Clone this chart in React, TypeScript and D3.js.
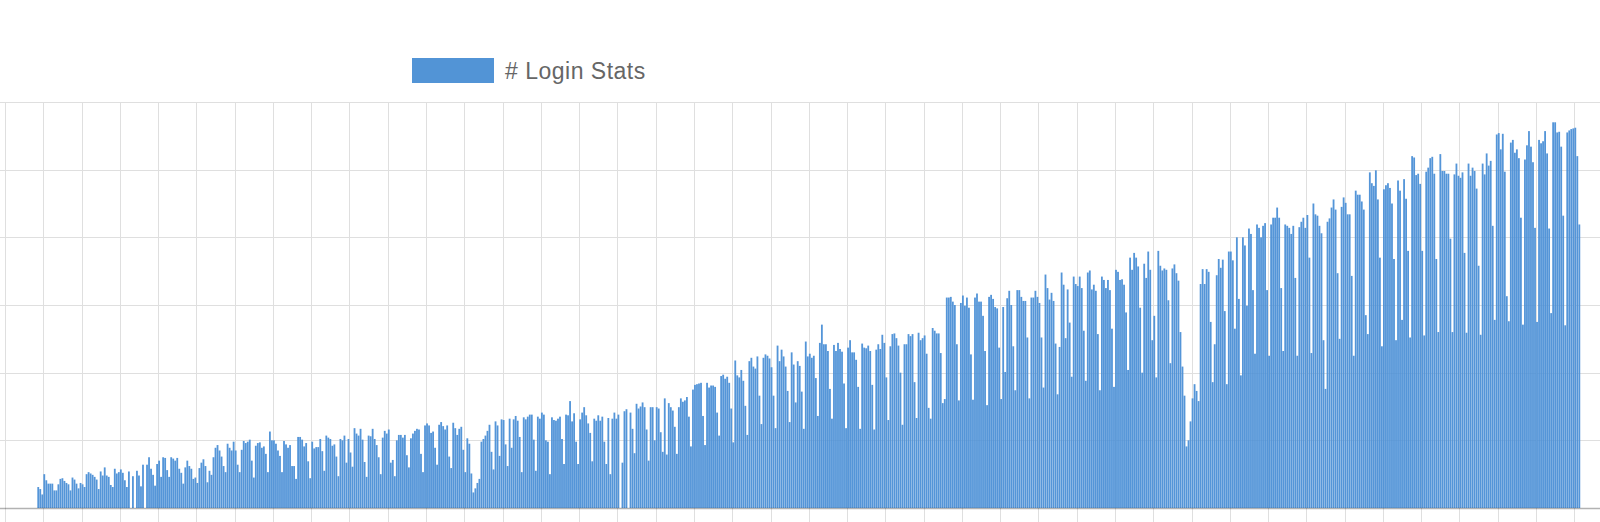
import React, { useEffect, useRef } from 'react'
import * as d3 from 'd3'

// daily login counts left to right (0 = no data that day)
const loginsPart1 = [
  31,28,20,50,41,36,36,36,26,26,35,43,44,40,37,35,26,45,42,36,29,37,35,31,50,53,51,49,46,42,
  28,54,48,60,48,46,34,31,58,51,53,57,52,41,31,54,0,47,0,55,48,32,64,0,
  64,75,58,49,33,65,70,46,75,74,56,46,75,73,70,74,58,52,36,60,70,62,58,43,45,37,59,67,72,62,
  38,55,49,75,89,93,85,76,62,53,95,89,85,98,85,64,53,86,99,96,98,101,70,45,92,96,97,89,91,80,
  53,113,100,100,95,85,77,53,99,94,89,93,62,62,43,105,105,101,91,96,69,44,98,88,90,90,102,84,
  55,107,104,102,92,94,76,47,102,100,107,67,102,82,61,118,110,107,117,101,68,46,107,106,117,102,
  93,75,50,104,114,110,116,67,71,47,100,108,108,
]
const loginsPart2 = [
  104,108,78,60,103,110,114,117,116,80,53,122,125,122,111,113,89,64,123,127,
  121,116,122,76,59,126,118,108,117,120,86,53,103,95,51,23,29,37,43,98,
  102,107,114,123,83,57,128,122,77,131,130,94,62,132,89,131,136,129,105,53,
  134,131,135,138,138,101,55,135,132,141,138,100,98,50,134,130,129,132,135,102,
  65,138,137,158,128,140,98,65,131,141,149,137,125,111,69,132,129,137,129,135,
  98,65,133,50,132,141,132,138,0,67,143,146,0,141,117,81,154,147,150,
  156,149,116,70,149,149,100,149,147,112,83,162,79,155,149,144,120,80,149,162,
  157,159,164,135,
]
const loginsPart3 = [
  91,175,182,183,184,185,136,93,185,178,181,181,179,141,107,195,197,191,194,185,
  147,97,218,196,193,204,188,151,108,217,222,209,206,224,166,124,222,227,225,221,
  208,166,118,240,217,234,224,209,173,127,230,212,156,217,210,172,117,246,224,228,
  222,225,192,136,244,271,242,242,232,176,132,241,232,244,235,231,184,118,237,248,
  230,230,219,179,117,243,237,236,240,232,182,116,234,242,235,256,244,193,130,239,
  257,258,251,240,200,123,242,242,257,254,257,186,133,259,248,251,255,228,148,132,
  266,262,258,258,
]
const loginsPart4 = [
  229,155,161,311,311,312,305,300,242,159,303,314,299,311,296,227,160,311,317,305,
  305,284,232,152,312,315,309,297,295,237,161,297,201,310,321,300,239,174,322,322,
  312,306,306,252,162,311,311,321,312,303,252,178,345,325,308,318,306,243,168,238,
  348,330,251,323,274,194,342,331,328,342,325,262,188,348,351,323,330,321,257,174,
  342,337,325,337,322,265,179,352,349,337,338,330,289,204,370,352,377,370,357,296,
  200,361,340,379,352,248,284,193,380,358,351,354,352,307,214,354,360,347,336,
]
const loginsPart5 = [
  260,209,166,91,100,128,162,183,173,158,331,353,331,353,349,275,186,242,344,368,
  355,367,291,183,379,379,366,265,400,309,196,400,388,299,413,405,322,228,419,414,
  400,417,421,322,225,419,429,429,444,429,325,232,419,417,414,405,417,340,225,415,
  423,429,414,433,370,229,450,434,432,417,406,248,176,423,428,444,456,441,347,250,
  445,459,451,434,434,343,225,469,463,463,453,441,285,257,496,480,476,499,456,370,
]
const loginsPart6 = [
  239,471,477,480,473,450,368,248,484,469,278,486,457,380,252,520,518,492,494,479,
  380,255,497,503,517,519,494,368,260,523,498,498,494,494,398,260,493,509,491,488,
  496,377,259,509,491,503,498,472,358,256,509,493,524,506,513,417,278,552,554,530,
  553,497,313,276,540,544,525,530,517,429,271,515,536,557,534,511,414,275,544,539,
  542,557,524,413,288,570,570,555,556,534,432,270,555,558,560,561,562,520,419,
]

const logins = [...loginsPart1, ...loginsPart2, ...loginsPart3, ...loginsPart4, ...loginsPart5, ...loginsPart6]

const yTicks = [0, 100, 200, 300, 400, 500, 600]
const leadDays = 16   // empty days on the axis before the first count
const trailDays = 14
const gridEvery = 19  // autoskipped label spacing, in days
const firstDay = new Date(2016, 10, 4)
const fmt = d3.timeFormat('%Y-%m-%d')
const days = d3.range(leadDays + logins.length + trailDays).map(i => fmt(d3.timeDay.offset(firstDay, i - leadDays)))
const values = days.map((d, i) => logins[i - leadDays] || 0)

const width = 1600
const height = 522
const plot = { left: 5, top: 102, bottom: 508, step: 2.0145 }

function render(svgEl) {
  const svg = d3.select(svgEl)
  svg.selectAll('*').remove()

  const x = d3.scaleBand()
    .domain(days)
    .range([plot.left, plot.left + plot.step * days.length])
    .paddingInner(0)
  const y = d3.scaleLinear().domain([0, 600]).range([plot.bottom, plot.top])

  // horizontal grid
  svg.append('g').selectAll('line').data(yTicks.slice(1)).enter().append('line')
    .attr('x1', 0).attr('x2', width)
    .attr('y1', d => Math.round(y(d)) + 0.5).attr('y2', d => Math.round(y(d)) + 0.5)
    .attr('stroke', '#dfdfdf').attr('stroke-width', 1)

  // vertical grid + tick marks
  const gridDays = days.filter((d, i) => i % gridEvery === 0)
  svg.append('g').selectAll('line').data(gridDays).enter().append('line')
    .attr('x1', d => Math.round(x(d)) + 0.5).attr('x2', d => Math.round(x(d)) + 0.5)
    .attr('y1', plot.top).attr('y2', height)
    .attr('stroke', '#dfdfdf').attr('stroke-width', 1)

  // bars
  const bw = x.bandwidth() * 0.9
  svg.append('g').selectAll('rect').data(days.filter((d, i) => values[i] > 0)).enter().append('rect')
    .attr('x', d => x(d) + (x.bandwidth() - bw) / 2)
    .attr('width', bw)
    .attr('y', d => y(values[days.indexOf(d)]))
    .attr('height', d => plot.bottom - y(values[days.indexOf(d)]))
    .attr('fill', '#4b8fd6')
    .attr('fill-opacity', 0.95)

  // x axis line
  svg.append('line')
    .attr('x1', 0).attr('x2', width)
    .attr('y1', plot.bottom + 0.5).attr('y2', plot.bottom + 0.5)
    .attr('stroke', 'rgba(0,0,0,0.3)').attr('stroke-width', 1.5)

  // legend
  const legend = svg.append('g')
  legend.append('rect')
    .attr('x', 412).attr('y', 58).attr('width', 82).attr('height', 25)
    .attr('fill', '#5294d6')
  legend.append('text')
    .attr('x', 505).attr('y', 78.5)
    .attr('font-family', '"Liberation Sans", Arial, sans-serif')
    .attr('font-size', 23)
    .attr('letter-spacing', 0.5)
    .attr('fill', '#666')
    .text('# Login Stats')
}

const App = () => {
  const ref = useRef(null)

  useEffect(() => {
    render(ref.current)
  })

  return (
    <div style={{ position: 'absolute', left: 0, top: 0 }}>
      <svg ref={ref} width={width} height={height} style={{ display: 'block', background: '#fff' }} />
    </div>
  )
}

export default App
